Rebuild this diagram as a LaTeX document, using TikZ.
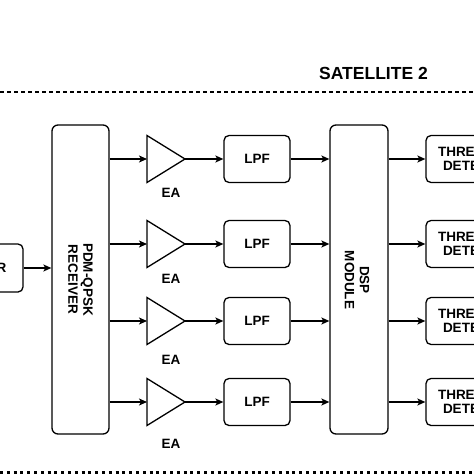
\documentclass[tikz,border=0pt]{standalone}
\usepackage{fontspec}
\setmainfont{Liberation Sans}
\usetikzlibrary{arrows.meta}
\begin{document}
\begin{tikzpicture}[x=1pt,y=-1pt,
  line width=1.3pt,
  lbl/.style={font=\fontsize{13.5}{14}\selectfont\bfseries},
  blk/.style={draw,rounded corners=5pt,inner sep=0pt,lbl,align=center},
  arr/.style={-{Stealth[length=8pt,width=7pt,inset=2pt]}},
  amp/.style={draw,line join=miter}]
\useasboundingbox (0,0) rectangle (474,474);
\clip (0,0) rectangle (474,474);
% title and separators
\node[font=\fontsize{17.5}{20}\selectfont\bfseries] (title) at (373.5,73) {SATELLITE 2};
\coordinate (dl) at (0,92); \coordinate (dr) at (474,92);
\draw[line width=1.2pt,dash pattern=on 4pt off 3pt] (dl) -- (dr);
\coordinate (bl) at (0,472.5); \coordinate (br) at (474,472.5);
\draw[line width=2.6pt,dash pattern=on 3pt off 3.8pt] (bl) -- (br);
% left box
\node[blk,minimum width=60pt,minimum height=48pt] (rx) at (-7,268) {};
\node[lbl,anchor=east,inner sep=0pt] (rtxt) at (7,268) {R};
% PDM receiver
\node[blk,rounded corners=6pt,minimum width=57pt,minimum height=309pt] (pdm) at (80.5,279.5) {};
\node[lbl,rotate=-90,align=center,font=\fontsize{13.5}{15}\selectfont\bfseries] (pdmtxt) at (pdm.center) {PDM-QPSK\\RECEIVER};
\draw[arr] (rx.east) -- (rx.east -| pdm.west);
% DSP module
\node[blk,rounded corners=6pt,minimum width=58pt,minimum height=309pt] (dsp) at (359,279.5) {};
\node[lbl,rotate=-90,align=center,font=\fontsize{13.5}{15}\selectfont\bfseries] (dsptxt) at (357,280) {DSP\\MODULE};
% rows
\foreach \i/\y/\ea in {1/159/193,2/244/279,3/321/360,4/402/444}{
  \coordinate (a\i) at (147,\y);
  \coordinate (o\i) at (185,\y);
  \draw[amp] (147,\y-23.5) -- (o\i) -- (147,\y+23.5) -- cycle;
  \node[lbl] (ea\i) at (171,\ea) {EA};
  \node[blk,minimum width=66pt,minimum height=47pt] (l\i) at (257,\y) {LPF};
  \node[blk,minimum width=108pt,minimum height=47pt] (t\i) at (480,\y) {THRESHOLD\\DETECTOR};
  \draw[arr] (pdm.east |- a\i) -- (a\i);
  \draw[arr] (o\i) -- (l\i.west);
  \draw[arr] (l\i.east) -- (l\i.east -| dsp.west);
  \draw[arr] (dsp.east |- t\i.west) -- (t\i.west);
}
\end{tikzpicture}
\end{document}
